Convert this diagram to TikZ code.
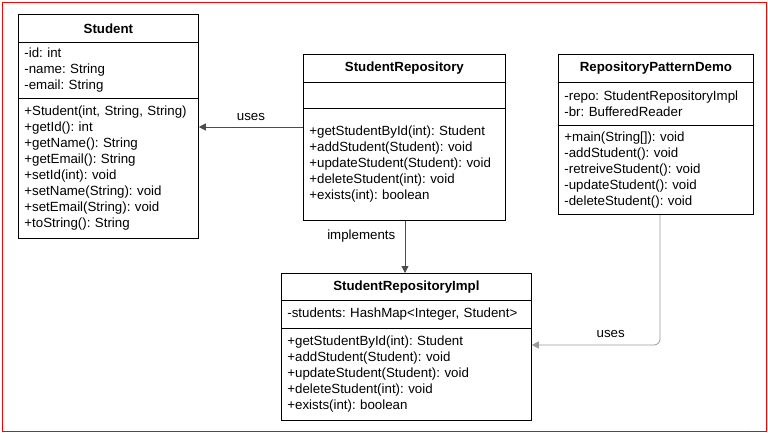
\documentclass[tikz,border=0pt]{standalone}
\usepackage{fontspec}
\setmainfont{Liberation Sans}
\frenchspacing
\usetikzlibrary{arrows.meta, positioning}
\begin{document}
\begin{tikzpicture}[x=1pt, y=-1pt, >={Triangle[length=7pt,width=7pt]},
    every node/.style={font=\fontsize{13.3}{16}\selectfont},
    part/.style={draw, thick, anchor=north west, align=left, inner xsep=6pt, inner ysep=0pt},
    head/.style={part, align=center, font=\fontsize{13.3}{16}\selectfont\bfseries}]
    \useasboundingbox (0,0) rectangle (768,433);
    \draw[red, thick] (2,2) rectangle (766,431);

    % Student
    \node[head, minimum width=180pt, minimum height=28pt] (stT) at (18,14) {Student};
    \node[part, minimum width=180pt, minimum height=56pt, text width=168pt] (stA) at (18,42)
        {-id: int\\-name: String\\-email: String};
    \node[part, minimum width=180pt, minimum height=140pt, text width=168pt] (stM) at (18,98)
        {+Student(int, String, String)\\+getId(): int\\+getName(): String\\+getEmail(): String\\+setId(int): void\\+setName(String): void\\+setEmail(String): void\\+toString(): String};

    % StudentRepository
    \node[head, minimum width=202pt, minimum height=28pt] (repT) at (303,54) {StudentRepository};
    \node[part, minimum width=202pt, minimum height=26pt] (repA) at (303,82) {};
    \node[part, minimum width=202pt, minimum height=112pt, text width=190pt] (repM) at (303,108)
        {+getStudentById(int): Student\\+addStudent(Student): void\\+updateStudent(Student): void\\+deleteStudent(int): void\\+exists(int): boolean};

    % RepositoryPatternDemo
    \node[head, minimum width=195pt, minimum height=28pt] (demoT) at (558,54) {RepositoryPatternDemo};
    \node[part, minimum width=195pt, minimum height=43pt, text width=183pt] (demoA) at (558,82)
        {-repo: StudentRepositoryImpl\\-br: BufferedReader};
    \node[part, minimum width=195pt, minimum height=89pt, text width=183pt] (demoM) at (558,125)
        {+main(String[]): void\\-addStudent(): void\\-retreiveStudent(): void\\-updateStudent(): void\\-deleteStudent(): void};

    % StudentRepositoryImpl
    \node[head, minimum width=250pt, minimum height=27pt] (implT) at (281,273) {StudentRepositoryImpl};
    \node[part, minimum width=250pt, minimum height=28pt, text width=238pt] (implA) at (281,300)
        {-students: HashMap<Integer, Student>};
    \node[part, minimum width=250pt, minimum height=92pt, text width=238pt] (implM) at (281,328)
        {+getStudentById(int): Student\\+addStudent(Student): void\\+updateStudent(Student): void\\+deleteStudent(int): void\\+exists(int): boolean};

    % connectors
    \coordinate (usesL) at (repM.west |- 0,127);
    \draw[->, thick, black!70] (usesL) -- (usesL -| stM.east) node[midway, above=3pt, black] {uses};
    \draw[->, thick, black!70] (repM.south -| 405,0) -- (implT.north -| 405,0) node[pos=0.3, left=6pt, black] {implements};
    \coordinate (bend) at (660,345);
    \draw[->, thick, black!40, rounded corners=6pt] (demoM.south -| bend) -- (bend) -- (bend -| implM.east)
        node[pos=0.4, above=4pt, xshift=2pt, black] {uses};
\end{tikzpicture}
\end{document}
